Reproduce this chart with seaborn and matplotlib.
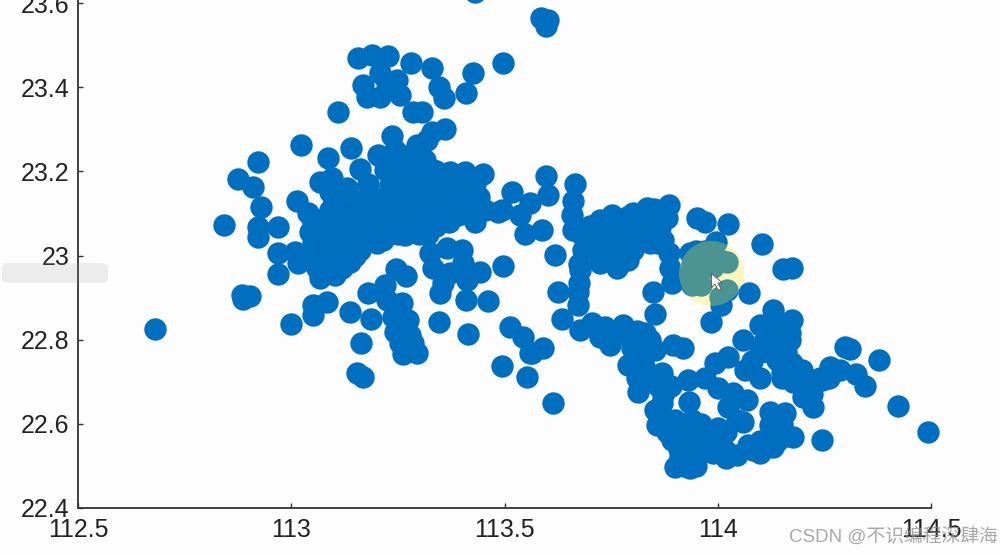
import matplotlib
matplotlib.use('Agg')
import matplotlib.pyplot as plt
from matplotlib.path import Path
from matplotlib.patches import FancyBboxPatch
import pandas as pd
import seaborn as sns

# points, one pair of lists per area of the map
north_x = [113.431, 113.586, 113.602, 113.597, 113.497, 113.157, 113.189, 113.227, 113.281, 113.330, 113.426, 113.168,
           113.208, 113.248, 113.225, 113.178, 113.208, 113.255, 113.346, 113.358, 113.410, 113.285, 113.307, 113.110]
north_y = [23.626, 23.564, 23.559, 23.545, 23.457, 23.469, 23.476, 23.474, 23.457, 23.445, 23.433, 23.405,
           23.433, 23.417, 23.410, 23.376, 23.376, 23.381, 23.400, 23.374, 23.386, 23.341, 23.341, 23.341]

centre_x = [113.361, 113.330, 113.236, 113.318, 113.295, 113.203, 113.243, 113.278, 113.314, 113.161, 113.220, 113.255,
            113.290, 113.325, 113.361, 113.332, 113.372, 113.407, 113.450, 113.232, 113.267, 113.302, 113.337, 113.372,
            113.196, 113.243, 113.278, 113.314, 113.349, 113.255, 113.290, 113.325, 113.267, 113.407, 113.419, 113.391,
            113.431, 113.454, 113.485, 113.518, 113.536, 113.494, 113.560, 113.602, 113.597, 113.548, 113.588,
            113.22, 113.26, 113.30, 113.34, 113.24, 113.28, 113.31, 113.35, 113.39, 113.43,
            113.22, 113.26, 113.30, 113.33, 113.36, 113.40, 113.44, 113.23, 113.27, 113.31,
            113.34, 113.37, 113.30, 113.25, 113.18, 113.20, 113.17, 113.19, 113.21, 113.32]
centre_y = [23.300, 23.293, 23.284, 23.274, 23.262, 23.238, 23.250, 23.238, 23.227, 23.205, 23.203, 23.203,
            23.191, 23.179, 23.167, 23.203, 23.198, 23.198, 23.193, 23.167, 23.155, 23.143, 23.143, 23.132,
            23.132, 23.120, 23.108, 23.108, 23.096, 23.072, 23.065, 23.072, 23.048, 23.155, 23.120, 23.096,
            23.079, 23.108, 23.103, 23.151, 23.096, 23.108, 23.124, 23.143, 23.189, 23.051, 23.060,
            23.22, 23.22, 23.23, 23.20, 23.18, 23.18, 23.17, 23.18, 23.17, 23.17,
            23.14, 23.13, 23.12, 23.12, 23.11, 23.13, 23.14, 23.10, 23.08, 23.08,
            23.07, 23.08, 23.05, 23.05, 23.17, 23.10, 23.09, 23.07, 23.07, 23.05]

west_x = [113.023, 113.140, 113.086, 112.922, 112.875, 112.910, 113.067, 113.096, 112.929, 113.013, 113.039, 112.842,
          112.922, 112.922, 112.969, 112.969, 113.009, 112.969, 113.016, 113.114, 113.091, 113.126, 113.161, 113.149,
          113.114, 113.079, 113.044, 113.067, 113.103, 113.138, 113.173, 113.215, 113.056, 113.091, 113.126, 113.079,
          113.103, 113.067, 113.138, 113.161,
          113.08, 113.10, 113.13, 113.16, 113.14, 113.17, 113.11, 113.08, 113.05, 113.05,
          113.09, 113.12, 113.15, 113.06, 113.10, 113.13, 113.16, 113.09, 113.20]
west_y = [23.262, 23.255, 23.231, 23.222, 23.181, 23.162, 23.174, 23.184, 23.115, 23.129, 23.101, 23.072,
          23.067, 23.044, 23.067, 23.006, 23.008, 22.956, 22.982, 23.143, 23.108, 23.108, 23.120, 23.084,
          23.072, 23.072, 23.056, 23.025, 23.037, 23.048, 23.056, 23.037, 23.001, 22.989, 23.013, 22.965,
          22.953, 22.946, 22.984, 23.013,
          23.09, 23.06, 23.08, 23.08, 23.03, 23.03, 23.01, 23.02, 23.03, 23.08,
          22.97, 22.97, 23.00, 22.97, 23.13, 23.16, 23.13, 23.15, 23.03]

southwest_x = [112.681, 112.885, 112.903, 112.887, 112.999, 113.084, 113.051, 113.051, 113.138, 113.187, 113.164, 113.154,
               113.168, 113.180, 113.220, 113.246, 113.269, 113.225, 113.260, 113.239, 113.274, 113.243, 113.278, 113.255,
               113.285, 113.262, 113.295, 113.346, 113.414, 113.461, 113.497, 113.349, 113.410, 113.443, 113.400, 113.365,
               113.325, 113.332, 113.372, 113.412, 113.356, 113.403, 113.513, 113.543, 113.560, 113.590, 113.564, 113.494,
               113.553, 113.614]
southwest_y = [22.825, 22.906, 22.904, 22.896, 22.837, 22.889, 22.882, 22.858, 22.866, 22.849, 22.792, 22.721,
               22.711, 22.911, 22.930, 22.968, 22.951, 22.894, 22.887, 22.854, 22.847, 22.818, 22.811, 22.792,
               22.792, 22.766, 22.768, 22.842, 22.813, 22.892, 22.975, 22.911, 22.894, 22.961, 23.013, 23.018,
               23.006, 22.970, 22.958, 22.942, 22.934, 22.982, 22.830, 22.806, 22.768, 22.780, 22.768, 22.737,
               22.711, 22.649]

east_x = [113.665, 113.661, 113.658, 113.661, 113.618, 113.684, 113.724, 113.752, 113.801, 113.834, 113.886, 113.865,
          113.717, 113.724, 113.764, 113.801, 113.841, 113.724, 113.764, 113.731, 113.771, 113.818, 113.865, 113.872,
          113.787, 113.886, 113.888, 113.893, 113.677, 113.675, 113.625, 113.672, 113.672, 113.848, 113.853, 113.635,
          113.677, 113.705, 113.724, 113.736, 113.778, 113.747, 113.799, 113.829, 113.853, 113.895, 113.919,
          113.74, 113.78, 113.82, 113.85, 113.88, 113.84, 113.80, 113.76, 113.74, 113.70,
          113.72, 113.79, 113.83, 113.86, 113.75, 113.79, 113.70, 113.90, 113.68, 113.675,
          113.76, 113.81, 113.84, 113.80, 113.83]
east_y = [23.170, 23.129, 23.096, 23.060, 23.001, 23.013, 23.084, 23.096, 23.101, 23.113, 23.120, 23.091,
          23.067, 23.060, 23.044, 23.013, 23.029, 22.982, 22.970, 23.013, 23.020, 23.060, 23.067, 23.037,
          23.091, 23.006, 22.970, 22.934, 22.965, 22.934, 22.913, 22.913, 22.882, 22.913, 22.861, 22.849,
          22.823, 22.839, 22.806, 22.830, 22.835, 22.787, 22.804, 22.816, 22.775, 22.787, 22.780,
          23.07, 23.08, 23.09, 23.11, 23.09, 23.07, 23.05, 23.02, 23.03, 23.04,
          23.01, 23.02, 23.04, 23.03, 22.99, 22.99, 23.07, 22.95, 23.05, 22.98,
          22.81, 22.82, 22.80, 22.78, 22.77]

blob_x = [113.951, 113.970, 114.024, 114.104, 114.153, 114.174, 113.996, 113.935, 113.942, 113.935, 113.975, 114.022,
          114.005, 113.989, 113.958, 114.022, 114.005, 114.008, 114.073, 113.984,
          113.95, 113.97, 113.99, 113.94, 113.96, 113.94, 113.96]
blob_y = [23.089, 23.079, 23.075, 23.027, 22.968, 22.970, 23.032, 23.006, 22.958, 22.942, 22.996, 22.984,
          22.989, 22.972, 22.972, 22.918, 22.901, 22.882, 22.911, 22.842,
          23.01, 23.01, 23.01, 22.98, 22.98, 22.93, 22.93]

southeast_x = [113.790, 113.825, 113.811, 113.846, 113.813, 113.872, 113.853, 113.858, 113.907, 113.893, 113.930, 113.933,
               113.970, 113.994, 114.024, 114.059, 114.099, 114.130, 114.174, 114.169, 114.139, 114.106, 114.158, 114.298,
               114.310, 114.378, 114.423, 114.493, 114.324, 114.345, 114.263, 114.287, 114.244, 114.223, 114.200, 114.216,
               114.244, 114.176, 114.139, 114.174, 114.198, 114.151, 114.176, 114.099, 114.064, 114.036, 114.069, 114.001,
               114.045, 114.059, 114.024, 114.123, 114.158, 114.123, 114.146, 114.130, 114.083, 114.045, 114.017, 113.989,
               113.970, 113.989, 113.935, 113.912, 113.900, 113.935, 113.951, 113.928,
               113.83, 113.86, 113.87, 113.89, 113.87, 113.87, 113.90, 113.88, 113.93, 113.95, 113.92, 113.95,
               113.91, 113.96, 113.94, 114.00, 114.02, 114.00, 114.02, 114.07, 114.10, 114.14, 114.10,
               114.13, 114.15, 114.12, 114.16, 114.12, 114.10, 114.14, 114.17, 114.08, 114.15, 114.18, 114.20,
               114.15, 114.13, 114.16, 114.22, 114.24, 114.26]
southeast_y = [22.740, 22.744, 22.709, 22.704, 22.676, 22.668, 22.633, 22.597, 22.585, 22.562, 22.704, 22.652,
               22.709, 22.744, 22.759, 22.799, 22.835, 22.870, 22.847, 22.816, 22.839, 22.792, 22.794, 22.782,
               22.778, 22.752, 22.642, 22.581, 22.718, 22.690, 22.735, 22.728, 22.704, 22.640, 22.664, 22.680,
               22.562, 22.569, 22.752, 22.744, 22.728, 22.709, 22.699, 22.709, 22.728, 22.673, 22.657, 22.685,
               22.609, 22.604, 22.640, 22.628, 22.626, 22.597, 22.592, 22.545, 22.538, 22.526, 22.538, 22.531,
               22.581, 22.562, 22.554, 22.521, 22.497, 22.495, 22.521, 22.526,
               22.73, 22.69, 22.72, 22.69, 22.65, 22.60, 22.61, 22.58, 22.57, 22.56, 22.50, 22.50,
               22.54, 22.60, 22.61, 22.59, 22.58, 22.55, 22.52, 22.55, 22.56, 22.56, 22.53,
               22.83, 22.81, 22.80, 22.77, 22.77, 22.77, 22.79, 22.80, 22.75, 22.72, 22.71, 22.71,
               22.60, 22.58, 22.57, 22.67, 22.71, 22.71]

x_ticks = [112.5, 113, 113.5, 114, 114.5]
x_labels = ['112.5', '113', '113.5', '114', '114.5']
y_ticks = [22.4, 22.6, 22.8, 23, 23.2, 23.4, 23.6]
y_labels = ['22.4', '22.6', '22.8', '23', '23.2', '23.4', '23.6']

# screen recording leftovers: cursor highlight and pointer
cursor_x = [113.984]
cursor_y = [22.958]

sns.set_theme(style='ticks')
plt.rcParams['font.family'] = ['Liberation Sans', 'Noto Sans CJK SC', 'DejaVu Sans']

df = pd.DataFrame({
    'lon': north_x + centre_x + west_x + southwest_x + east_x + blob_x + southeast_x,
    'lat': north_y + centre_y + west_y + southwest_y + east_y + blob_y + southeast_y,
})

fig = plt.figure(figsize=(10.01, 5.54), dpi=100, facecolor='#fdfdfe')
ax = fig.add_axes([78 / 1001, 46 / 554, 853 / 1001, 547 / 554])
ax.set_facecolor('#fdfdfe')

sns.scatterplot(data=df, x='lon', y='lat', s=260, color='#006FC0', linewidth=0, clip_on=False, ax=ax)

# highlight circle sits on top of the points
ax.scatter(cursor_x, cursor_y, s=2200, color='#FFEB28', alpha=0.3, linewidth=0, zorder=5)
pointer = Path([(0, 0), (0, -1), (0.25, -0.75), (0.5, -1.2), (0.68, -1.1), (0.45, -0.68), (0.75, -0.65), (0, 0)])
ax.scatter(cursor_x, cursor_y, s=590, marker=pointer, color='white', edgecolor='#555555', linewidth=0.6, zorder=6)

ax.set_xlim(112.5, 114.5)
ax.set_ylim(22.4, 23.7)
ax.set_xticks(x_ticks, x_labels)
ax.set_yticks(y_ticks, y_labels)
ax.set_xlabel('')
ax.set_ylabel('')
ax.tick_params(direction='in', length=3.5, width=1, color='#333333', labelsize=18, labelcolor='#222222')
ax.tick_params(axis='x', pad=7)
ax.tick_params(axis='y', pad=6)
sns.despine(ax=ax)
for side in ['left', 'bottom']:
    ax.spines[side].set_linewidth(1.3)
    ax.spines[side].set_color('#333333')

# blurred subtitle strip on the left and the site watermark
fig.patches.append(FancyBboxPatch((2 / 1001, 1 - 283 / 554), 106 / 1001, 20 / 554, boxstyle='round,pad=0,rounding_size=0.008',
                                  transform=fig.transFigure, facecolor='#999999', edgecolor='none', alpha=0.16))
fig.text(998 / 1001, 1 - 537 / 554, 'CSDN @不识编程深肆海', ha='right', va='center', fontsize=13.5, color='#8c8c8c', alpha=0.75)

fig.savefig('out.png', dpi=100, facecolor=fig.get_facecolor())
